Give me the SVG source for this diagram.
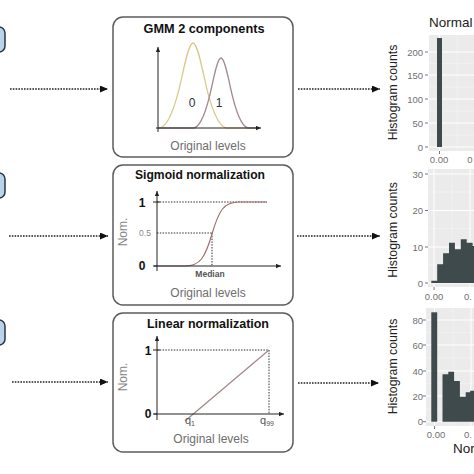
<svg xmlns="http://www.w3.org/2000/svg" width="474" height="474" viewBox="0 0 474 474">
<defs>
<style>
.box{fill:#fff;stroke:#5c5c5c;stroke-width:1.5}
.title{font-family:"Liberation Sans",Arial,sans-serif;font-weight:bold;font-size:12.5px;fill:#111;text-anchor:middle}
.xl{font-family:"Liberation Sans",Arial,sans-serif;font-size:12px;fill:#6e6e6e;text-anchor:middle}
.nom{font-family:"Liberation Sans",Arial,sans-serif;font-size:12px;fill:#858585;text-anchor:middle}
.axis{stroke:#222;stroke-width:1;fill:none}
.dot{stroke:#333;stroke-width:1;stroke-dasharray:1.5 1.3;fill:none}
.conn{stroke:#222;stroke-width:1.5;stroke-dasharray:1.6 1.2;fill:none}
.blue{fill:#b9d3ea;stroke:#2a3440;stroke-width:1.5}
.bar{fill:#3e4a4b}
.bg{fill:#ebebeb}
.grid{stroke:#fff;stroke-width:1}
.gridm{stroke:#f5f5f5;stroke-width:0.5}
.ytk{font-family:"Liberation Sans",Arial,sans-serif;font-size:9.5px;fill:#707070;text-anchor:end}
.xtk{font-family:"Liberation Sans",Arial,sans-serif;font-size:9.5px;fill:#707070;text-anchor:middle}
.tk{stroke:#555;stroke-width:0.8}
.ylab{font-family:"Liberation Sans",Arial,sans-serif;font-size:12.3px;fill:#222;text-anchor:middle}
.ptitle{font-family:"Liberation Sans",Arial,sans-serif;font-size:13.5px;fill:#222}
.bnum{font-family:"Liberation Sans",Arial,sans-serif;font-weight:bold;font-size:12px;fill:#111;text-anchor:middle}
.sm{font-family:"Liberation Sans",Arial,sans-serif;font-size:8.5px;fill:#888;text-anchor:middle}
.q{font-family:"Liberation Sans",Arial,sans-serif;font-size:11px;fill:#555;text-anchor:middle}
</style>
<marker id="ah" markerUnits="userSpaceOnUse" markerWidth="9" markerHeight="8" refX="8" refY="3.5" orient="auto">
<path d="M0,0 L8,3.5 L0,7 z" fill="#111"/>
</marker>
<marker id="ax" markerUnits="userSpaceOnUse" markerWidth="6" markerHeight="6" refX="5" refY="2.2" orient="auto">
<path d="M0,0 L5,2.2 L0,4.4 z" fill="#222"/>
</marker>
</defs>
<rect width="474" height="474" fill="#fff"/>

<g id="inputs">
<rect class="blue" x="-20" y="27" width="25" height="25" rx="6"/>
<rect class="blue" x="-20" y="173" width="25" height="25" rx="6"/>
<rect class="blue" x="-20" y="320" width="25" height="25" rx="6"/>
</g>

<g id="connectors">
<line class="conn" x1="10" y1="89" x2="108" y2="89" marker-end="url(#ah)"/>
<line class="conn" x1="9" y1="236" x2="108" y2="236" marker-end="url(#ah)"/>
<line class="conn" x1="12" y1="382" x2="108" y2="382" marker-end="url(#ah)"/>
<line class="conn" x1="298" y1="89" x2="380" y2="89" marker-end="url(#ah)"/>
<line class="conn" x1="297" y1="236" x2="380" y2="236" marker-end="url(#ah)"/>
<line class="conn" x1="298" y1="383" x2="379" y2="383" marker-end="url(#ah)"/>
</g>

<g id="gmm">
<rect class="box" x="113" y="17" width="180" height="140" rx="10"/>
<text class="title" x="204" y="33" textLength="121" lengthAdjust="spacingAndGlyphs">GMM 2 components</text>
<path d="M158,128 L160,128 C167.3,126.1 174.7,110.8 182,76.4 C185.7,59.3 189.3,43 193,43 C196.7,43 200.3,59.3 204,76.4 C211.3,110.8 218.7,126.1 226,128 L258,128" fill="none" stroke="#d8c98c" stroke-width="1.3"/>
<path d="M158,128 L194,128 C200,126.5 206,113.9 212,85.5 C215,71.4 218,58 221,58 C224,58 227,71.4 230,85.5 C236,113.9 242,126.5 248,128 L256,128" fill="none" stroke="#a48a98" stroke-width="1.3"/>
<line class="axis" x1="158" y1="132" x2="158" y2="47" marker-end="url(#ax)"/>
<line class="axis" x1="156" y1="128" x2="261" y2="128" marker-end="url(#ax)"/>
<text x="192" y="107" font-family="Liberation Sans, Arial, sans-serif" font-size="12" fill="#333" text-anchor="middle">0</text>
<text x="219" y="107" font-family="Liberation Sans, Arial, sans-serif" font-size="12" fill="#333" text-anchor="middle">1</text>
<text class="xl" x="208" y="150">Original levels</text>
</g>

<g id="sigmoid">
<rect class="box" x="113" y="165" width="180" height="140" rx="10"/>
<text class="title" x="200" y="179" textLength="130" lengthAdjust="spacingAndGlyphs">Sigmoid normalization</text>
<line class="dot" x1="157" y1="202" x2="267" y2="202"/>
<line class="dot" x1="157" y1="233" x2="212" y2="233"/>
<line class="dot" x1="212" y1="233" x2="212" y2="266"/>
<path d="M157,266 L185,266 C200,266 205,258 212,234 C219,210 224,202 239,202 L267,202" fill="none" stroke="#a07070" stroke-width="1.2"/>
<line class="axis" x1="157" y1="271" x2="157" y2="191" marker-end="url(#ax)"/>
<line class="axis" x1="154" y1="266" x2="281" y2="266" marker-end="url(#ax)"/>
<line class="axis" x1="153" y1="202" x2="160" y2="202"/>
<line class="axis" x1="153" y1="266" x2="157" y2="266"/>
<text class="bnum" x="142" y="207">1</text>
<text class="sm" x="145" y="236">0.5</text>
<text class="bnum" x="142" y="270">0</text>
<text x="210" y="277" font-family="Liberation Sans, Arial, sans-serif" font-size="8.5" font-weight="bold" fill="#555" text-anchor="middle">Median</text>
<text class="nom" transform="translate(127,232) rotate(-90)">Nom.</text>
<text class="xl" x="208" y="297">Original levels</text>
</g>

<g id="linear">
<rect class="box" x="113" y="313" width="180" height="139" rx="10"/>
<text class="title" x="208" y="328" textLength="122" lengthAdjust="spacingAndGlyphs">Linear normalization</text>
<line class="dot" x1="157" y1="350" x2="269" y2="350"/>
<line class="dot" x1="269" y1="350" x2="269" y2="414"/>
<line x1="185" y1="421" x2="269" y2="350" stroke="#a08585" stroke-width="1.2"/>
<line class="axis" x1="157" y1="420" x2="157" y2="336" marker-end="url(#ax)"/>
<line class="axis" x1="154" y1="414" x2="284" y2="414" marker-end="url(#ax)"/>
<line class="axis" x1="153" y1="350" x2="160" y2="350"/>
<line class="axis" x1="153" y1="414" x2="157" y2="414"/>
<text class="bnum" x="148" y="355">1</text>
<text class="bnum" x="148" y="418">0</text>
<text class="q" x="190" y="424">q<tspan font-size="7" dy="2">1</tspan></text>
<text class="q" x="267" y="424">q<tspan font-size="7" dy="2">99</tspan></text>
<text class="nom" transform="translate(127,377) rotate(-90)">Nom.</text>
<text class="xl" x="211" y="443">Original levels</text>
</g>

<g id="hist1">
<text class="ptitle" x="429" y="27">Normal</text>
<rect class="bg" x="429" y="35" width="45" height="116"/>
<line class="gridm" x1="429" y1="63.5" x2="474" y2="63.5"/>
<line class="gridm" x1="429" y1="87" x2="474" y2="87"/>
<line class="gridm" x1="429" y1="111" x2="474" y2="111"/>
<line class="gridm" x1="429" y1="135" x2="474" y2="135"/>
<line class="gridm" x1="457" y1="35" x2="457" y2="151"/>
<line class="grid" x1="429" y1="52" x2="474" y2="52"/>
<line class="grid" x1="429" y1="75" x2="474" y2="75"/>
<line class="grid" x1="429" y1="99" x2="474" y2="99"/>
<line class="grid" x1="429" y1="123" x2="474" y2="123"/>
<line class="grid" x1="429" y1="147" x2="474" y2="147"/>
<line class="grid" x1="439.5" y1="35" x2="439.5" y2="151"/>
<rect class="bar" x="437" y="38" width="5" height="109"/>
<text class="ytk" x="423" y="55.5">200</text>
<text class="ytk" x="423" y="78.5">150</text>
<text class="ytk" x="423" y="102.5">100</text>
<text class="ytk" x="423" y="126.5">50</text>
<text class="ytk" x="423" y="150.5">0</text>
<line class="tk" x1="425" y1="52" x2="428" y2="52"/>
<line class="tk" x1="425" y1="75" x2="428" y2="75"/>
<line class="tk" x1="425" y1="99" x2="428" y2="99"/>
<line class="tk" x1="425" y1="123" x2="428" y2="123"/>
<line class="tk" x1="425" y1="147" x2="428" y2="147"/>
<line class="tk" x1="439.5" y1="151" x2="439.5" y2="154"/>
<text class="xtk" x="439" y="163">0.00</text>
<text class="xtk" x="470" y="163">0</text>
<text class="ylab" transform="translate(397,92.5) rotate(-90)">Histogram counts</text>
</g>

<g id="hist2">
<rect class="bg" x="428" y="169" width="46" height="118"/>
<line class="gridm" x1="428" y1="192" x2="474" y2="192"/>
<line class="gridm" x1="428" y1="228.5" x2="474" y2="228.5"/>
<line class="gridm" x1="428" y1="265" x2="474" y2="265"/>
<line class="gridm" x1="452" y1="169" x2="452" y2="287"/>
<line class="grid" x1="428" y1="174" x2="474" y2="174"/>
<line class="grid" x1="428" y1="210.5" x2="474" y2="210.5"/>
<line class="grid" x1="428" y1="247" x2="474" y2="247"/>
<line class="grid" x1="428" y1="283" x2="474" y2="283"/>
<line class="grid" x1="434" y1="169" x2="434" y2="287"/>
<line class="grid" x1="470" y1="169" x2="470" y2="287"/>
<path class="bar" d="M431.3,283 V280.7 H437.2 V264.3 H443.1 V253.3 H449 V242.7 H454.9 V249.3 H460.8 V239.3 H466.7 V242.7 H472.6 V246 H474 V283 Z"/>
<text class="ytk" x="423" y="177.5">30</text>
<text class="ytk" x="423" y="214">20</text>
<text class="ytk" x="423" y="250.5">10</text>
<text class="ytk" x="423" y="286.5">0</text>
<line class="tk" x1="425" y1="174" x2="428" y2="174"/>
<line class="tk" x1="425" y1="210.5" x2="428" y2="210.5"/>
<line class="tk" x1="425" y1="247" x2="428" y2="247"/>
<line class="tk" x1="425" y1="283" x2="428" y2="283"/>
<line class="tk" x1="434" y1="287" x2="434" y2="290"/>
<text class="xtk" x="434" y="300">0.00</text>
<text class="xtk" x="468" y="300">0.</text>
<text class="ylab" transform="translate(397,230) rotate(-90)">Histogram counts</text>
</g>

<g id="hist3">
<rect class="bg" x="426" y="308" width="48" height="118"/>
<line class="gridm" x1="426" y1="332.5" x2="474" y2="332.5"/>
<line class="gridm" x1="426" y1="358" x2="474" y2="358"/>
<line class="gridm" x1="426" y1="383.5" x2="474" y2="383.5"/>
<line class="gridm" x1="426" y1="409" x2="474" y2="409"/>
<line class="gridm" x1="453" y1="308" x2="453" y2="426"/>
<line class="grid" x1="426" y1="320" x2="474" y2="320"/>
<line class="grid" x1="426" y1="345" x2="474" y2="345"/>
<line class="grid" x1="426" y1="371" x2="474" y2="371"/>
<line class="grid" x1="426" y1="396" x2="474" y2="396"/>
<line class="grid" x1="426" y1="421.7" x2="474" y2="421.7"/>
<line class="grid" x1="434.5" y1="308" x2="434.5" y2="426"/>
<line class="grid" x1="471" y1="308" x2="471" y2="426"/>
<rect class="bar" x="431.3" y="312.3" width="5.9" height="109.4"/>
<path class="bar" d="M442.5,421.7 V374.3 H448.3 V371.7 H454.1 V381 H459.9 V396.7 H465.7 V392.3 H470.2 V390.7 H474 V421.7 Z"/>
<text class="ytk" x="423" y="323.5">80</text>
<text class="ytk" x="423" y="348.5">60</text>
<text class="ytk" x="423" y="374.5">40</text>
<text class="ytk" x="423" y="399.5">20</text>
<text class="ytk" x="423" y="425">0</text>
<line class="tk" x1="423" y1="320" x2="426" y2="320"/>
<line class="tk" x1="423" y1="345" x2="426" y2="345"/>
<line class="tk" x1="423" y1="371" x2="426" y2="371"/>
<line class="tk" x1="423" y1="396" x2="426" y2="396"/>
<line class="tk" x1="423" y1="421.7" x2="426" y2="421.7"/>
<line class="tk" x1="434.5" y1="426" x2="434.5" y2="429"/>
<text class="xtk" x="436" y="438">0.00</text>
<text class="xtk" x="468" y="438">0.</text>
<text class="ylab" transform="translate(397,366.5) rotate(-90)">Histogram counts</text>
<text class="ptitle" x="453" y="453" font-size="12.5">Nor</text>
</g>
</svg>
